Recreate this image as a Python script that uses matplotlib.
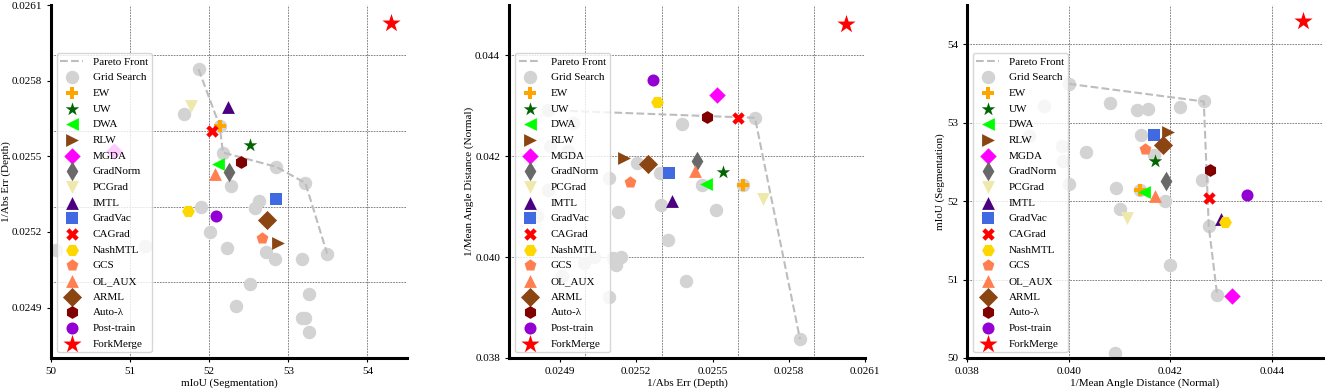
import matplotlib
matplotlib.use('Agg')
import matplotlib.pyplot as plt
import numpy as np

plt.rcParams['font.family'] = ['Liberation Serif', 'DejaVu Serif']
plt.rcParams['mathtext.fontset'] = 'stix'

# --- data ---
methods = ['EW', 'UW', 'DWA', 'RLW', 'MGDA', 'GradNorm', 'PCGrad', 'IMTL', 'GradVac',
           'CAGrad', 'NashMTL', 'GCS', 'OL_AUX', 'ARML', 'Auto-λ', 'Post-train', 'ForkMerge']

# panel 1: mIoU (x) vs 1/Abs Err (y)
seg_depth_x = [52.13, 52.51, 52.11, 52.87, 50.79, 52.25, 51.77, 52.24, 52.84,
               52.04, 51.73, 52.67, 52.07, 52.73, 52.40, 52.08, 54.30]
seg_depth_y = [0.025621, 0.025543, 0.025470, 0.025156, 0.025520, 0.025436, 0.025700, 0.025697, 0.025330,
               0.025600, 0.025284, 0.025177, 0.025430, 0.025249, 0.025477, 0.025264, 0.026027]
grid1_x = [51.865, 51.675, 52.131, 52.173, 52.848, 53.215, 53.49, 52.278, 52.624, 52.574, 51.899,
           52.004, 52.224, 52.713, 52.835, 53.173, 51.19, 50.063, 52.51, 53.266, 52.338, 53.17,
           53.215, 53.266, 50.785]
grid1_y = [0.025845, 0.025667, 0.025621, 0.025515, 0.025458, 0.025394, 0.025114, 0.025381, 0.025321,
           0.025295, 0.025297, 0.025200, 0.025138, 0.025119, 0.025094, 0.025094, 0.025146, 0.025127,
           0.024994, 0.024952, 0.024908, 0.024860, 0.024860, 0.024804, 0.024860]
pareto1_x = [51.865, 52.131, 52.173, 52.848, 53.215, 53.49]
pareto1_y = [0.025845, 0.025621, 0.025515, 0.025458, 0.025394, 0.025114]

# panel 2: 1/Abs Err (x) vs 1/Mean Angle Distance (y)
depth_normal_x = [0.025619, 0.025543, 0.025473, 0.025153, 0.025516, 0.025439, 0.025697, 0.025342, 0.025330,
                  0.025602, 0.025283, 0.025175, 0.025432, 0.025248, 0.025477, 0.025265, 0.026025]
depth_normal_y = [0.041426, 0.041684, 0.041453, 0.041969, 0.043213, 0.041903, 0.041155, 0.041122, 0.041671,
                  0.042763, 0.043080, 0.041493, 0.041704, 0.041850, 0.042776, 0.043517, 0.044629]
grid2_x = [0.024854, 0.025667, 0.025844, 0.025381, 0.025202, 0.025293, 0.025094, 0.025457, 0.025297,
           0.025514, 0.025127, 0.025324, 0.025140, 0.025110, 0.025120, 0.025394, 0.025094, 0.025035,
           0.024994, 0.024907, 0.024808, 0.024854, 0.024860, 0.024933, 0.024952, 0.025619]
grid2_y = [0.042915, 0.042763, 0.038376, 0.042644, 0.041870, 0.041671, 0.041572, 0.041426, 0.041029,
           0.040930, 0.040904, 0.040335, 0.040004, 0.039984, 0.039852, 0.039521, 0.039203, 0.040004,
           0.039885, 0.039633, 0.040824, 0.041340, 0.042200, 0.042101, 0.042664, 0.041426]
pareto2_x = [0.024854, 0.025667, 0.025844]
pareto2_y = [0.042915, 0.042763, 0.038376]

# panel 3: 1/Mean Angle Distance (x) vs mIoU (y)
normal_seg_x = [0.041410, 0.041692, 0.041475, 0.041954, 0.043213, 0.041908, 0.041148, 0.043003, 0.041672,
                0.042761, 0.043082, 0.041495, 0.041705, 0.041856, 0.042774, 0.043515, 0.044610]
normal_seg_y = [52.136, 52.505, 52.110, 52.879, 50.794, 52.251, 51.783, 51.775, 52.845,
                52.038, 51.732, 52.667, 52.059, 52.718, 52.399, 52.081, 54.297]
grid3_x = [0.040000, 0.042656, 0.042754, 0.042918, 0.039515, 0.040807, 0.041344, 0.041561, 0.042184,
           0.041430, 0.040348, 0.041672, 0.039869, 0.039889, 0.039220, 0.040000, 0.040938, 0.042630,
           0.041889, 0.041016, 0.042000, 0.040918, 0.041410]
grid3_y = [53.495, 53.270, 51.677, 50.807, 53.214, 53.257, 53.163, 53.176, 53.206,
           52.845, 52.624, 52.582, 52.705, 52.505, 52.832, 52.221, 52.166, 52.272,
           51.996, 51.898, 51.189, 50.064, 52.136]
pareto3_x = [0.040000, 0.042656, 0.042754, 0.042918]
pareto3_y = [53.495, 53.270, 51.677, 50.807]

# marker style per method
styles = {
    'EW':         dict(marker='P', color='orange', s=65),
    'UW':         dict(marker='*', color='darkgreen', s=105),
    'DWA':        dict(marker='<', color='lime', s=85),
    'RLW':        dict(marker='>', color='saddlebrown', s=85),
    'MGDA':       dict(marker='D', color='magenta', s=70),
    'GradNorm':   dict(marker='d', color='dimgray', s=100),
    'PCGrad':     dict(marker='v', color='palegoldenrod', s=85),
    'IMTL':       dict(marker='^', color='indigo', s=85),
    'GradVac':    dict(marker='s', color='royalblue', s=70),
    'CAGrad':     dict(marker='X', color='red', s=80),
    'NashMTL':    dict(marker='H', color='gold', s=85),
    'GCS':        dict(marker='p', color='coral', s=80),
    'OL_AUX':     dict(marker='^', color='coral', s=85),
    'ARML':       dict(marker='D', color='saddlebrown', s=95),
    'Auto-λ':     dict(marker='h', color='maroon', s=85),
    'Post-train': dict(marker='o', color='darkviolet', s=75),
    'ForkMerge':  dict(marker='*', color='red', s=190),
}


def draw_panel(ax, gx, gy, px, py, mx, my):
    ax.plot(px, py, linestyle='--', color='#bdbdbd', linewidth=1.5, zorder=3, label='Pareto Front')
    ax.scatter(gx, gy, s=75, color='#d3d3d3', marker='o', zorder=2, label='Grid Search')
    for name, x, y in zip(methods, mx, my):
        ax.scatter(x, y, zorder=4, label=name, linewidths=0, **styles[name])
    ax.spines['top'].set_visible(False)
    ax.spines['right'].set_visible(False)
    ax.spines['left'].set_linewidth(2.2)
    ax.spines['bottom'].set_linewidth(2.2)
    ax.spines['left'].set_color('black')
    ax.spines['bottom'].set_color('black')
    ax.tick_params(axis='both', labelsize=8, length=3)
    ax.tick_params(which='minor', length=0)
    ax.set_axisbelow(True)
    ax.legend(loc='lower left', fontsize=8, labelspacing=0.53, borderpad=0.35,
              handletextpad=0.9, framealpha=0.8)


grid_kw = dict(color='#555555', linestyle='--', linewidth=0.5, dashes=(2.5, 1.5))

fig = plt.figure(figsize=(13.25, 3.91), dpi=100)
ax1 = fig.add_axes([0.0385, 0.0844, 0.2687, 0.9028])
ax2 = fig.add_axes([0.3842, 0.0844, 0.2687, 0.9028])
ax3 = fig.add_axes([0.7298, 0.0844, 0.2687, 0.9028])

# panel 1
draw_panel(ax1, grid1_x, grid1_y, pareto1_x, pareto1_y, seg_depth_x, seg_depth_y)
ax1.set_xlim(50, 54.5)
ax1.set_ylim(0.0247, 0.0261)
ax1.set_xticks([50, 51, 52, 53, 54])
ax1.set_yticks([0.0249, 0.0252, 0.0255, 0.0258, 0.0261])
ax1.set_yticklabels(['0.0249', '0.0252', '0.0255', '0.0258', '0.0261'])
ax1.set_yticks([0.0250, 0.0253, 0.0256, 0.0259], minor=True)
ax1.grid(True, axis='x', which='major', **grid_kw)
ax1.grid(True, axis='y', which='minor', **grid_kw)
ax1.set_xlabel('mIoU (Segmentation)', fontsize=8, labelpad=2)
ax1.set_ylabel('1/Abs Err (Depth)', fontsize=8, labelpad=0.5)

# panel 2
draw_panel(ax2, grid2_x, grid2_y, pareto2_x, pareto2_y, depth_normal_x, depth_normal_y)
ax2.set_xlim(0.0247, 0.0261)
ax2.set_ylim(0.038, 0.045)
ax2.set_xticks([0.0249, 0.0252, 0.0255, 0.0258, 0.0261])
ax2.set_xticklabels(['0.0249', '0.0252', '0.0255', '0.0258', '0.0261'])
ax2.set_xticks([0.0250, 0.0253, 0.0256, 0.0259], minor=True)
ax2.set_yticks([0.038, 0.040, 0.042, 0.044])
ax2.set_yticklabels(['0.038', '0.040', '0.042', '0.044'])
ax2.grid(True, axis='x', which='minor', **grid_kw)
ax2.grid(True, axis='y', which='major', **grid_kw)
ax2.set_xlabel('1/Abs Err (Depth)', fontsize=8, labelpad=2)
ax2.set_ylabel('1/Mean Angle Distance (Normal)', fontsize=8, labelpad=1)

# panel 3
draw_panel(ax3, grid3_x, grid3_y, pareto3_x, pareto3_y, normal_seg_x, normal_seg_y)
ax3.set_xlim(0.038, 0.045)
ax3.set_ylim(50, 54.5)
ax3.set_xticks([0.038, 0.040, 0.042, 0.044])
ax3.set_xticklabels(['0.038', '0.040', '0.042', '0.044'])
ax3.set_yticks([50, 51, 52, 53, 54])
ax3.grid(True, which='major', **grid_kw)
ax3.set_xlabel('1/Mean Angle Distance (Normal)', fontsize=8, labelpad=2)
ax3.set_ylabel('mIoU (Segmentation)', fontsize=8, labelpad=1)

fig.savefig('out.png', dpi=100)
